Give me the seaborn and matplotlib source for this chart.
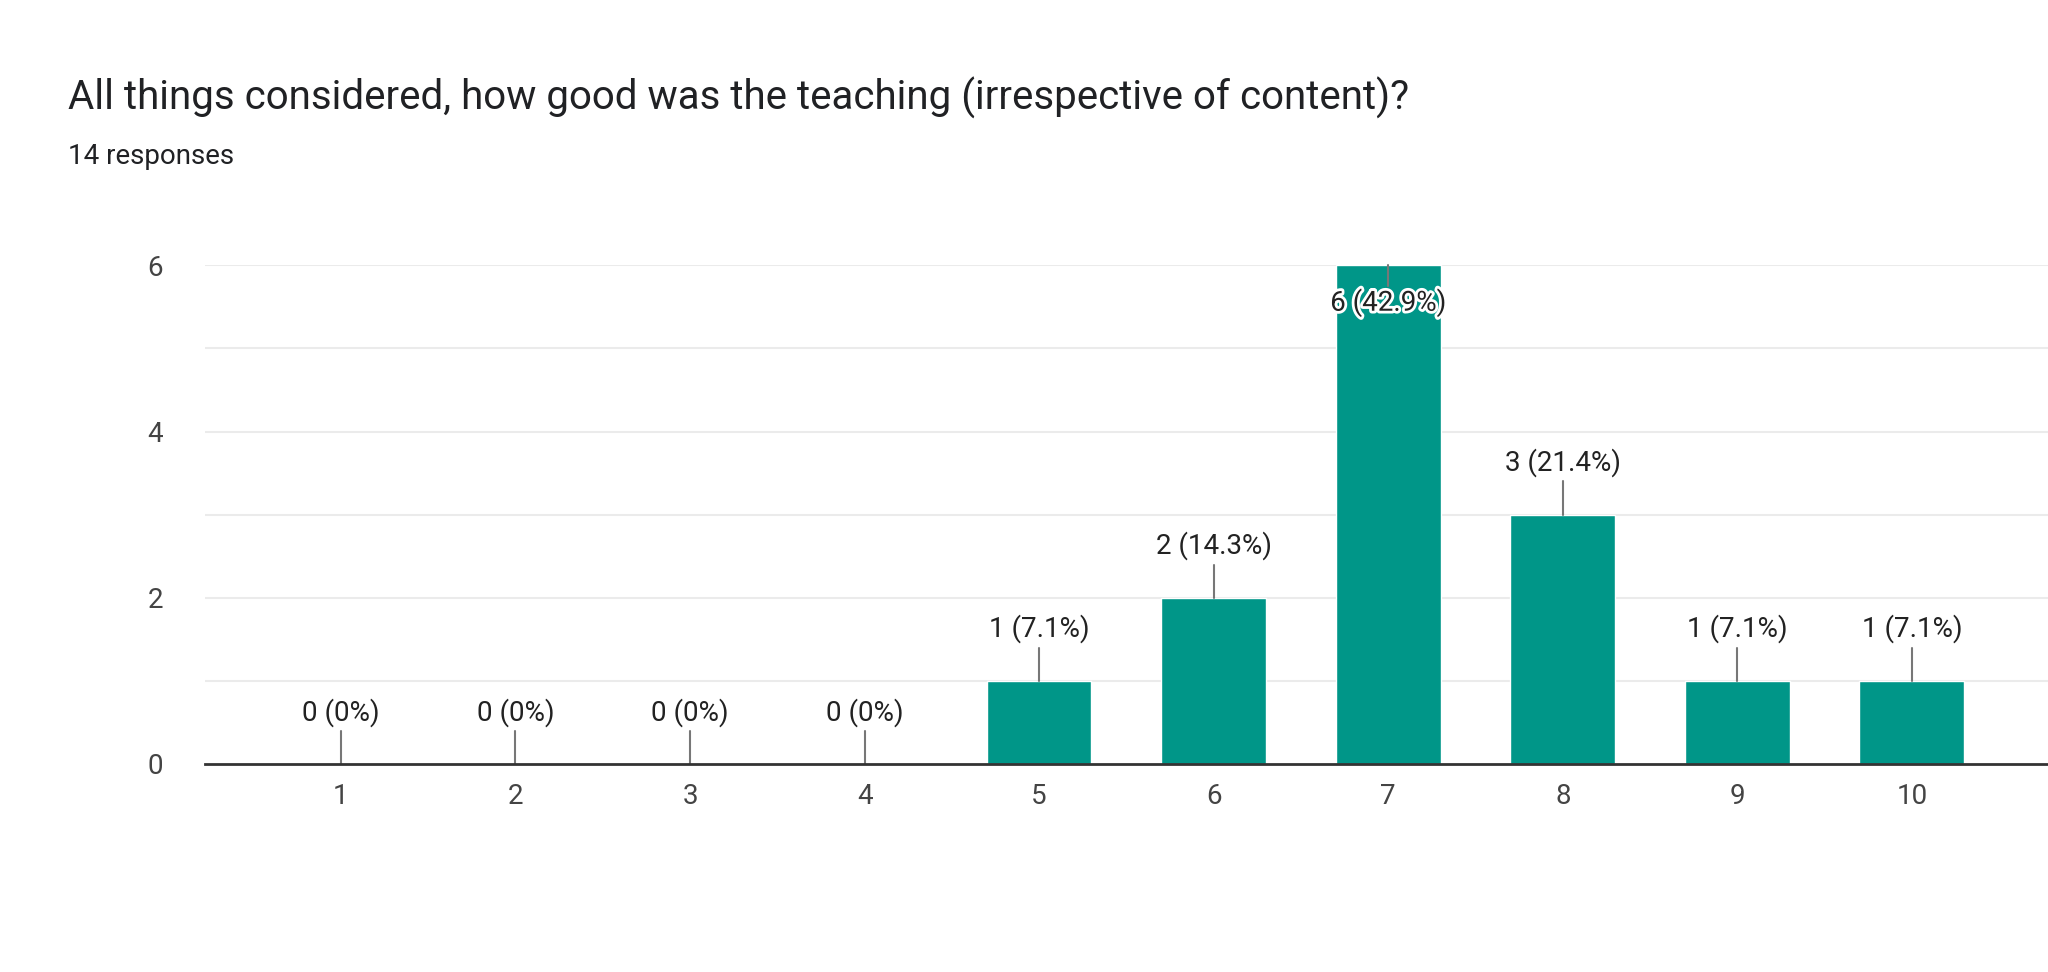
import matplotlib
matplotlib.use("Agg")
import matplotlib.pyplot as plt
import matplotlib.patheffects as pe
import seaborn as sns
import pandas as pd

# 데이터
categories = ["1", "2", "3", "4", "5", "6", "7", "8", "9", "10"]
counts = [0, 0, 0, 0, 1, 2, 6, 3, 1, 1]
labels = ["0 (0%)", "0 (0%)", "0 (0%)", "0 (0%)", "1 (7.1%)", "2 (14.3%)",
          "6 (42.9%)", "3 (21.4%)", "1 (7.1%)", "1 (7.1%)"]
title = "All things considered, how good was the teaching (irrespective of content)?"
subtitle = "14 responses"

sns.set_theme(style="white")
plt.rcParams['font.family'] = ['Roboto', 'DejaVu Sans']

df = pd.DataFrame({"cat": categories, "n": counts})

fig = plt.figure(figsize=(20.48, 9.72), dpi=100)
ax = fig.add_axes([0.100, 0.214, 0.900, 0.513])
sns.barplot(data=df, x="cat", y="n", color="#009688", saturation=1, width=0.6, ax=ax)

ax.set_ylim(0, 6)
ax.set_yticks([0, 2, 4, 6])
for y in [1, 2, 3, 4, 5, 6]:
    ax.axhline(y, color="#ebebeb", lw=1.5, zorder=0)
ax.set_axisbelow(True)
for s in ["top", "right", "left"]:
    ax.spines[s].set_visible(False)
ax.spines["bottom"].set_color("#333333")
ax.spines["bottom"].set_linewidth(2)
ax.set_xlabel("")
ax.set_ylabel("")
ax.tick_params(axis="both", labelsize=20, labelcolor="#444444", length=0, pad=14)
ax.tick_params(axis="y", pad=30)

# 막대 위 라벨
for i, (v, lab) in enumerate(zip(counts, labels)):
    if v >= 6:
        ax.plot([i, i], [v, v - 0.25], color="#777777", lw=1.5, clip_on=False)
        ax.text(i, v - 0.45, lab, ha="center", va="center", fontsize=20, color="#222222",
                path_effects=[pe.withStroke(linewidth=4, foreground="white")])
    else:
        ax.plot([i, i], [v, v + 0.4], color="#777777", lw=1.5, clip_on=False)
        ax.text(i, v + 0.45, lab, ha="center", va="bottom", fontsize=20, color="#222222")

fig.text(0.033, 0.899, title, fontsize=29, color="#202124", va="center")
fig.text(0.033, 0.839, subtitle, fontsize=20, color="#202124", va="center")

fig.savefig("out.png", dpi=100, facecolor="white")
